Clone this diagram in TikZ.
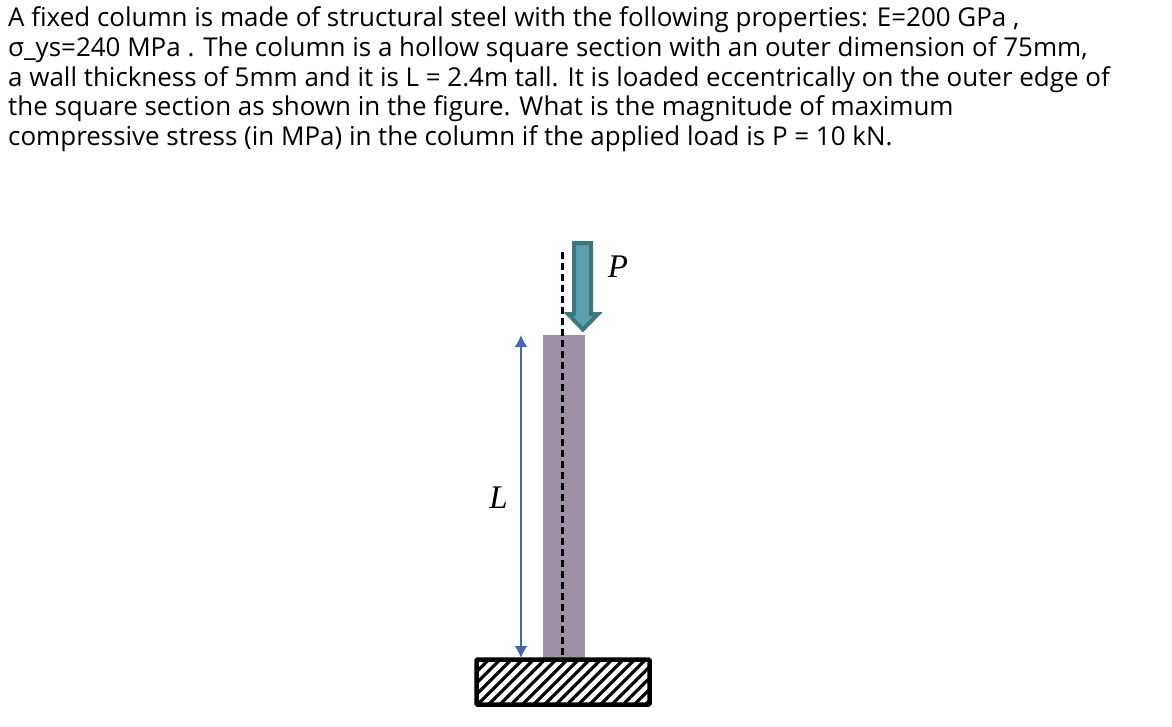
\documentclass[tikz,border=0pt]{standalone}
\usepackage{fontspec}
\setmainfont{Open Sans}
\newfontfamily\figfont{Liberation Serif}
\usetikzlibrary{arrows.meta}
\definecolor{colfill}{RGB}{160,146,166}
\definecolor{arrfill}{RGB}{90,160,175}
\definecolor{arrline}{RGB}{62,118,128}
\definecolor{dimcol}{RGB}{70,100,175}
\tikzset{x=1pt,y=-1pt,
 textline/.style={anchor=base west,inner sep=0pt,font=\fontsize{25.95}{30}\selectfont},
 figlabel/.style={inner sep=0pt,font=\figfont\itshape\fontsize{33}{36}\selectfont},
 dimline/.style={draw=dimcol,line width=1.8pt,{Latex[length=12pt,width=13pt]}-{Latex[length=12pt,width=13pt]}}}
\begin{document}
\begin{tikzpicture}
\useasboundingbox (0,0) rectangle (1172,726);
\node[textline] (t1) at (8,26) {A fixed column is made of structural steel with the following properties: E=200 GPa ,};
\node[textline] (t2) at (8,56) {σ\_ys=240 MPa . The column is a hollow square section with an outer dimension of 75mm,};
\node[textline] (t3) at (8,86) {a wall thickness of 5mm and it is L = 2.4m tall. It is loaded eccentrically on the outer edge of};
\node[textline] (t4) at (8,115.5) {the square section as shown in the figure. What is the magnitude of maximum};
\node[textline] (t5) at (8,145.5) {compressive stress (in MPa) in the column if the applied load is P = 10 kN.};
\fill[colfill] (543,335) rectangle (585,659);
\begin{scope}
\clip (476,659) rectangle (650,705);
\foreach \k in {-6,...,16} {
  \draw[line width=3.2pt] ({476+\k*11.2-4},{710}) -- ({476+\k*11.2+52},{654});
}
\end{scope}
\draw[line width=4.5pt,rounded corners=1pt] (476.5,659.5) rectangle (649.5,704.5);
\coordinate (dtop) at (562.5,252);
\coordinate (dbot) at (562.5,657);
\draw[line width=2.6pt,dash pattern=on 7pt off 4pt] (dtop) -- (dbot);
\draw[draw=arrline,fill=arrfill,line width=4pt,line join=miter] (574,243)--(591,243)--(591,314)--(598,314)--(583,329.5)--(568,314)--(574,314)--cycle;
\coordinate (ltop) at (521,335);
\coordinate (lbot) at (521,658);
\draw[dimline] (ltop) -- (lbot);
\node[figlabel] (P) at (618,267) {P};
\node[figlabel] (L) at (498.5,498) {L};
\end{tikzpicture}
\end{document}
